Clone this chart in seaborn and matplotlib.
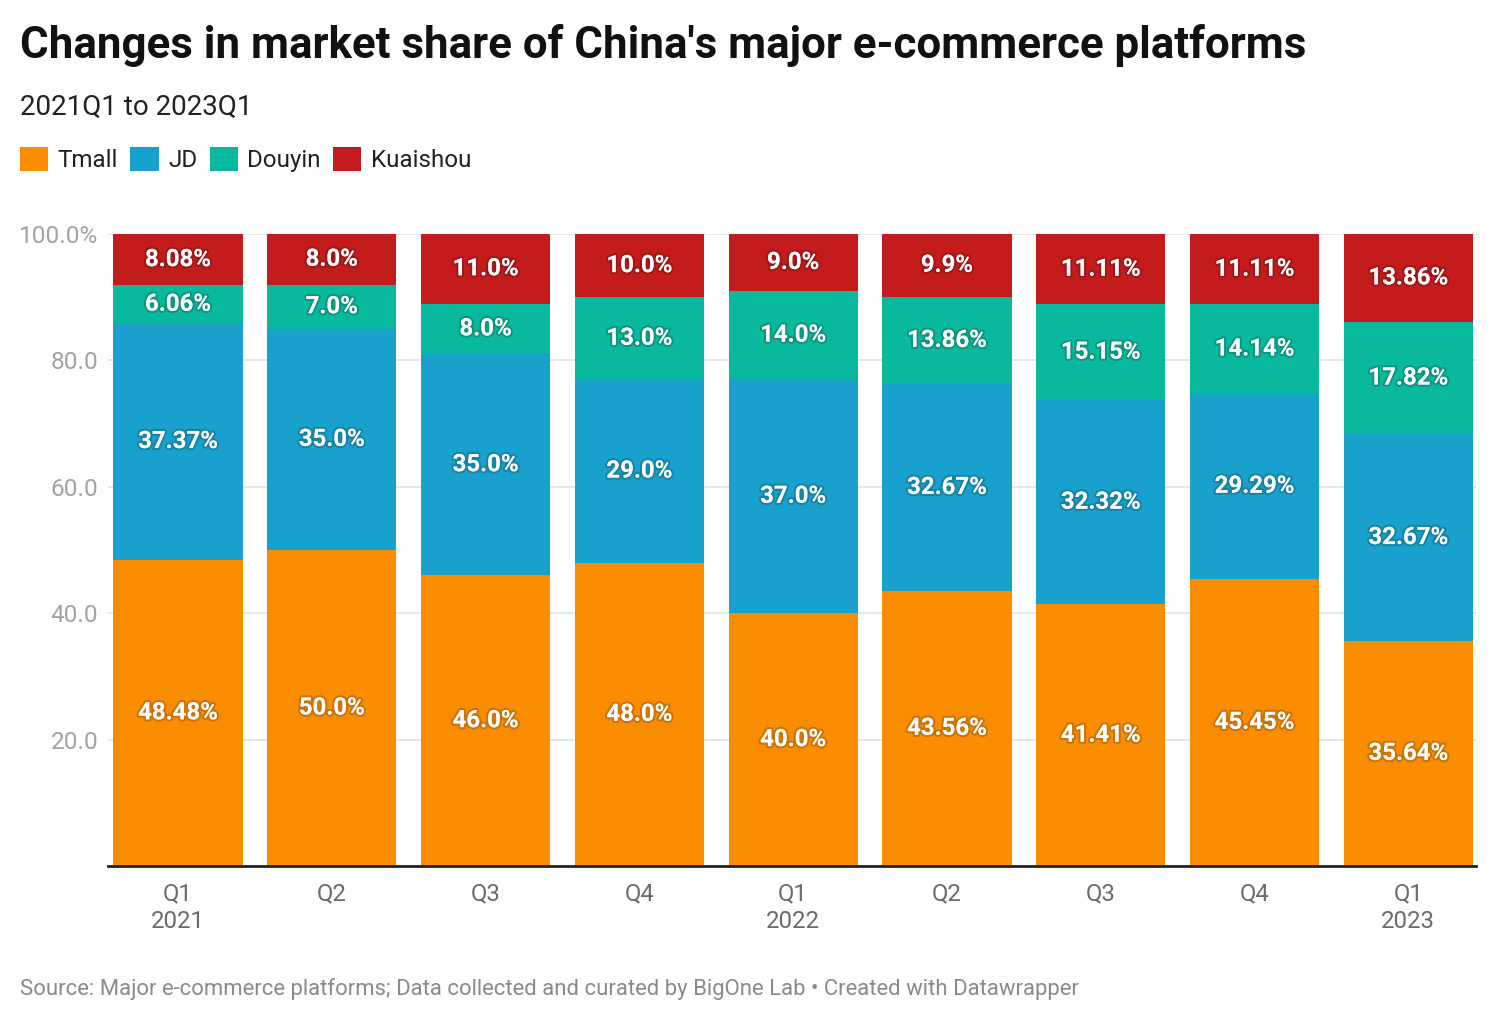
import matplotlib
matplotlib.use("Agg")
import matplotlib.pyplot as plt
import matplotlib.patheffects as pe
from matplotlib.patches import Patch
import numpy as np
import pandas as pd
import seaborn as sns

# ── data ────────────────────────────────────────────────
periods = ["2021Q1", "2021Q2", "2021Q3", "2021Q4",
           "2022Q1", "2022Q2", "2022Q3", "2022Q4", "2023Q1"]
tick_labels = ["Q1\n2021", "Q2", "Q3", "Q4", "Q1\n2022", "Q2", "Q3", "Q4", "Q1\n2023"]
platforms = ["Tmall", "JD", "Douyin", "Kuaishou"]

tmall    = [48.48, 50.0, 46.0, 48.0, 40.0, 43.56, 41.41, 45.45, 35.64]
jd       = [37.37, 35.0, 35.0, 29.0, 37.0, 32.67, 32.32, 29.29, 32.67]
douyin   = [6.06, 7.0, 8.0, 13.0, 14.0, 13.86, 15.15, 14.14, 17.82]
kuaishou = [8.08, 8.0, 11.0, 10.0, 9.0, 9.9, 11.11, 11.11, 13.86]

label_text = {
    "Tmall":    ["48.48%", "50.0%", "46.0%", "48.0%", "40.0%", "43.56%", "41.41%", "45.45%", "35.64%"],
    "JD":       ["37.37%", "35.0%", "35.0%", "29.0%", "37.0%", "32.67%", "32.32%", "29.29%", "32.67%"],
    "Douyin":   ["6.06%", "7.0%", "8.0%", "13.0%", "14.0%", "13.86%", "15.15%", "14.14%", "17.82%"],
    "Kuaishou": ["8.08%", "8.0%", "11.0%", "10.0%", "9.0%", "9.9%", "11.11%", "11.11%", "13.86%"],
}

colors = {"Tmall": "#FA8C00", "JD": "#18A1CC", "Douyin": "#09B99D", "Kuaishou": "#C41C1C"}

df = pd.DataFrame({"period": periods, "Tmall": tmall, "JD": jd,
                   "Douyin": douyin, "Kuaishou": kuaishou})

# cumulative tops for stacked look
cum = df[platforms].cumsum(axis=1)

# ── style ───────────────────────────────────────────────
sns.set_theme(style="white")
plt.rcParams["font.family"] = ["Roboto", "DejaVu Sans"]

fig = plt.figure(figsize=(14.96, 10.22), dpi=100)
ax = fig.add_axes([0.0722, 0.1526, 0.9144, 0.6184])

# draw from the top segment downwards so lower bars cover upper ones
for p in reversed(platforms):
    sns.barplot(x=df["period"], y=cum[p], order=periods, color=colors[p],
                width=0.84, saturation=1, ax=ax, zorder=2, edgecolor="none")

# segment labels
shadow = [pe.withStroke(linewidth=3, foreground=(0, 0, 0, 0.18))]
for i in range(len(periods)):
    bottom = 0.0
    for p in platforms:
        v = df[p].iloc[i]
        ax.text(i, bottom + v / 2, label_text[p][i], ha="center", va="center",
                color="white", fontsize=17.3, fontweight="bold", zorder=5,
                path_effects=shadow)
        bottom += v

# axes
ax.set_ylim(0, 100)
ax.set_xlim(-0.455, 8.44)
ax.set_yticks([20, 40, 60, 80, 100])
ax.set_yticklabels(["20.0", "40.0", "60.0", "80.0", "100.0%"])
ax.set_xticks(range(len(periods)))
ax.set_xticklabels(tick_labels, linespacing=1.25)
ax.tick_params(axis="y", length=0, pad=7, labelsize=17.6, labelcolor="#a3a3a3")
ax.tick_params(axis="x", length=0, pad=11.5, labelsize=17.3, labelcolor="#6b6b6b")
ax.yaxis.grid(True, color="#e3e3e3", linewidth=1.2, zorder=0)
ax.set_axisbelow(True)
ax.set_xlabel("")
ax.set_ylabel("")
for s in ["top", "right", "left"]:
    ax.spines[s].set_visible(False)
ax.spines["bottom"].set_color("#222222")
ax.spines["bottom"].set_linewidth(2)
ax.spines["bottom"].set_zorder(6)

# titles
fig.text(0.0134, 0.955, "Changes in market share of China's major e-commerce platforms",
         fontsize=31.6, fontweight="bold", color="#111111", ha="left", va="center")
fig.text(0.0134, 0.895, "2021Q1 to 2023Q1", fontsize=20, color="#222222",
         ha="left", va="center")

# legend
handles = [Patch(facecolor=colors[p], edgecolor="none", label=p) for p in platforms]
fig.legend(handles=handles, loc="center left", bbox_to_anchor=(0.0134, 0.844),
           ncol=4, frameon=False, fontsize=17.4, handlelength=1.17, handleheight=1.17,
           handletextpad=0.38, columnspacing=0.52, borderpad=0, borderaxespad=0,
           labelcolor="#222222")

# source
fig.text(0.0134, 0.032,
         "Source: Major e-commerce platforms; Data collected and curated by BigOne Lab \u2022 Created with Datawrapper",
         fontsize=15.9, color="#8a8a8a", ha="left", va="center")

fig.savefig("out.png", dpi=100)
